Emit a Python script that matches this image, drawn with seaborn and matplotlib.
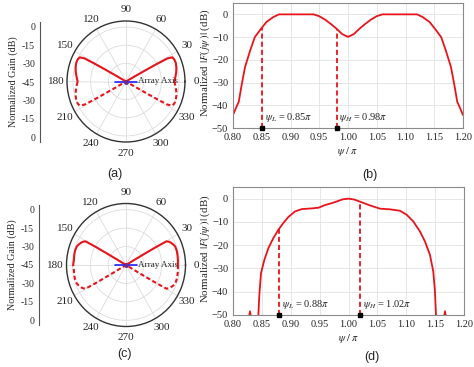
import numpy as np
import matplotlib
matplotlib.use('Agg')
from matplotlib import pyplot as plt
import seaborn as sns

# polar patterns, upper half (deg, dB); the lower half is drawn mirrored and dashed
theta_a = [0, 5, 10, 15, 20, 24, 27, 28.5, 29, 29.3, 29.6, 30,
           150, 150.4, 150.7, 151, 151.5, 153, 156, 160, 165, 170, 175, 180]
gain_a = [-4.0, -3.0, -1.8, -0.8, -0.1, -0.2, -1.0, -5.0, -15.0, -25.0, -35.0, -45.0,
          -45.0, -35.0, -25.0, -15.0, -5.0, -1.0, -0.2, -0.1, -0.8, -1.8, -3.0, -4.0]

theta_c = [0, 5, 10, 15, 20, 23, 26, 28, 29.5, 30, 30.3, 30.6, 31,
           149, 149.4, 149.7, 150, 150.5, 152, 154, 157, 160, 165, 170, 175, 180]
gain_c = [-1.4, -1.2, -1.0, -0.8, -1.0, -2.0, -3.3, -4.5, -6.0, -15.0, -25.0, -35.0, -45.0,
          -45.0, -35.0, -25.0, -15.0, -6.0, -4.5, -3.3, -2.0, -1.0, -0.6, -0.8, -1.0, -0.6]

angle_ticks = [0, 30, 60, 90, 120, 150, 180, 210, 240, 270, 300, 330]
gain_tick_pos = [45, 30, 15, 0, -15, -30, -45]
gain_tick_labels = ['0', '-15', '-30', '-45', '-30', '-15', '0']

# normalized |F(j psi)| curves
psi_b = [0.800, 0.806, 0.810, 0.815, 0.821, 0.830, 0.838, 0.848, 0.858, 0.870, 0.880,
         0.940, 0.950, 0.960, 0.970, 0.980, 0.990, 1.000, 1.010, 1.020, 1.030, 1.040,
         1.050, 1.060, 1.120, 1.130, 1.142, 1.152, 1.162, 1.170, 1.179, 1.185, 1.190,
         1.194, 1.200]
gain_b = [-44.3, -40.7, -38.5, -31.1, -23.1, -15.8, -10.0, -6.6, -3.4, -1.2, 0.0,
          0.0, -0.8, -2.3, -4.2, -6.3, -8.7, -9.9, -8.7, -6.3, -4.2, -2.3,
          -0.8, 0.0, 0.0, -1.2, -3.4, -6.6, -10.0, -15.8, -23.1, -31.1, -38.5,
          -40.7, -44.3]

psi_d = [0.8439, 0.8456, 0.8485, 0.8543, 0.8612, 0.8698, 0.8785, 0.8871, 0.8958, 0.9074,
         0.919, 0.936, 0.948, 0.959, 0.974, 0.990, 1.000, 1.010, 1.020, 1.037, 1.0545,
         1.0718, 1.089, 1.1006, 1.1122, 1.1237, 1.1324, 1.141, 1.1468, 1.1497, 1.1515]
gain_d = [-50.0, -41.4, -32.0, -26.3, -21.3, -17.0, -13.4, -10.5, -7.9, -5.5,
          -4.5, -4.2, -3.9, -2.8, -1.7, -0.3, 0.0, -0.4, -1.3, -2.9, -4.3,
          -4.6, -5.2, -6.9, -9.8, -14.1, -18.4, -24.1, -31.3, -39.9, -50.0]
sidelobe_psi = [[0.8280, 0.8294, 0.8308], [1.1657, 1.1671, 1.1685]]
sidelobe_gain = [-50.0, -48.3, -50.0]

psi_b_edges = (0.85, 0.98)
psi_d_edges = (0.88, 1.02)
edge_labels_b = (r'$\psi_L$ = 0.85$\pi$', r'$\psi_H$ = 0.98$\pi$')
edge_labels_d = (r'$\psi_L$ = 0.88$\pi$', r'$\psi_H$ = 1.02$\pi$')
psi_ticks = [0.80, 0.85, 0.90, 0.95, 1.00, 1.05, 1.10, 1.15, 1.20]
db_ticks = [0, -10, -20, -30, -40, -50]

RED = '#e8141c'
BLUE = '#1f1fff'
W, H = 474, 367

sns.set_style('white')
plt.rcParams['font.family'] = ['Liberation Serif', 'DejaVu Serif']
plt.rcParams['mathtext.fontset'] = 'stix'


def rect(x0, y0, x1, y1):
    # pixel box (top-left origin) -> figure fraction
    return [x0 / W, 1 - y1 / H, (x1 - x0) / W, (y1 - y0) / H]


def polar_panel(fig, cx, cy, rx, ry, theta, gain, axis_box):
    ax = fig.add_axes(rect(cx - rx, cy - ry, cx + rx, cy + ry), projection='polar')
    ax.set_aspect('auto')
    th = np.deg2rad(theta)
    sns.lineplot(x=th, y=gain, ax=ax, color=RED, lw=1.5,
                 sort=False, estimator=None)
    sns.lineplot(x=2 * np.pi - th, y=gain, ax=ax, color=RED, lw=1.5,
                 linestyle=(0, (2.0, 1.3)), sort=False, estimator=None)
    ax.plot([np.pi, np.pi, 0, 0], [-35.5, -45, -45, -35.5], color=BLUE, lw=1.2)
    ax.plot([0], [-45], marker='o', ms=2.5, color='#6a2a8a')
    ax.text(0.02, -34.5, 'Array Axis', ha='left', va='center', fontsize=6.5)
    ax.set_ylim(-45, 5)
    ax.set_yticks([-30, -15, 0])
    ax.set_yticklabels([])
    ax.set_xticks(np.deg2rad(angle_ticks))
    ax.set_xticklabels([str(a) for a in angle_ticks], fontsize=8)
    ax.tick_params(axis='x', length=0, pad=1.0)
    ax.grid(color='#dcdcdc', lw=0.6)
    ax.spines['polar'].set_color('#333333')
    ax.spines['polar'].set_linewidth(1.0)
    ax.set_xlabel('')
    ax.set_ylabel('')

    sa = fig.add_axes(rect(*axis_box))
    sa.set_ylim(-49, 49)
    sa.set_xticks([])
    sa.set_yticks(gain_tick_pos)
    sa.set_yticklabels(gain_tick_labels)
    for s in ['top', 'right', 'bottom']:
        sa.spines[s].set_visible(False)
    sa.spines['left'].set_color('#555555')
    sa.spines['left'].set_linewidth(0.8)
    sa.patch.set_visible(False)
    sa.tick_params(axis='y', direction='out', length=2.5, width=0.6,
                   color='#555555', labelsize=7, pad=1)
    sa.set_ylabel('Normalized Gain (dB)', fontsize=7.2, labelpad=3)


def cart_panel(fig, box, psi, gain, edges, labels, label_x, extra=None):
    ax = fig.add_axes(rect(*box))
    sns.lineplot(x=psi, y=gain, ax=ax, color=RED, lw=1.3, estimator=None)
    if extra is not None:
        for xs in extra:
            sns.lineplot(x=xs, y=sidelobe_gain, ax=ax, color=RED, lw=1.1,
                         estimator=None)
    for e, lab, lx in zip(edges, labels, label_x):
        top = np.interp(e, psi, gain)
        ax.plot([e, e], [-50, top], color=RED, lw=1.3, linestyle=(0, (2.8, 1.7)))
        ax.plot([e], [-50], marker='s', ms=3.5, color='black', clip_on=False, zorder=5)
        ax.text(lx, -45.5, lab, fontsize=7.5, ha='left', va='center')
    ax.set_xlim(0.80, 1.20)
    ax.set_ylim(-50, 5)
    ax.set_xticks(psi_ticks)
    ax.set_xticklabels(['%.2f' % t for t in psi_ticks])
    ax.set_yticks(db_ticks)
    ax.grid(True, color='#e2e2e2', lw=0.6)
    for s in ax.spines.values():
        s.set_color('#8a8a8a')
        s.set_linewidth(0.8)
    ax.tick_params(direction='out', length=2, width=0.6, color='#777777',
                   labelsize=7.5, pad=1.5)
    ax.set_xlabel(r'$\psi\ /\ \pi$', fontsize=7.5, labelpad=2)
    ax.set_ylabel(r'Normalized $|F(\,j\psi\,)|$ (dB)', fontsize=7.8)
    # right edge of the rotated label sits about 21 px left of the frame
    ax.yaxis.set_label_coords(-21 / (box[2] - box[0]), 0.52)


fig = plt.figure(figsize=(W / 100, H / 100), dpi=100)

polar_panel(fig, 126, 81.5, 59, 60.5, theta_a, gain_a, (40, 22, 41, 142))
polar_panel(fig, 126, 265, 59.5, 61.5, theta_c, gain_c, (39, 205, 40, 325))

cart_panel(fig, (233, 3, 463, 128), psi_b, gain_b, psi_b_edges, edge_labels_b,
           (0.855, 0.985))
cart_panel(fig, (233, 187, 464, 315), psi_d, gain_d, psi_d_edges, edge_labels_d,
           (0.884, 1.025), extra=sidelobe_psi)

for txt, x, y in [('(a)', 115, 174), ('(b)', 370, 175), ('(c)', 125, 354), ('(d)', 372, 357)]:
    fig.text(x / W, 1 - y / H, txt, family='Liberation Sans', fontsize=9,
             ha='center', va='center')

fig.savefig('out.png', dpi=100)
